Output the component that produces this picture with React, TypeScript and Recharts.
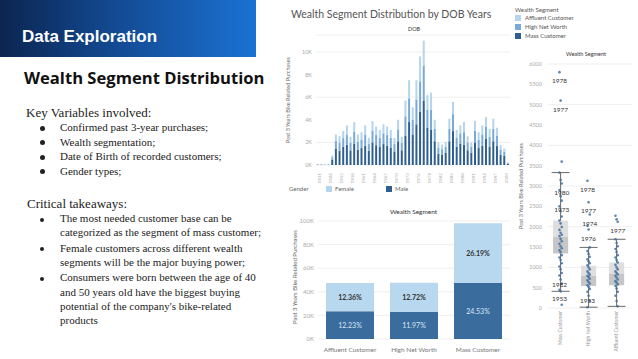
import React from 'react'
import {
  Bar,
  BarChart,
  CartesianGrid,
  LabelList,
  ReferenceArea,
  ReferenceLine,
  Scatter,
  ScatterChart,
  XAxis,
  YAxis,
} from 'recharts'

// ---- DOB chart data (purchases per birth year, split by wealth segment)
const dobYears = [
  1931, 1935, 1943, 1944, 1953, 1954, 1955, 1956, 1957, 1958, 1959, 1960, 1961, 1962,
  1963, 1964, 1965, 1966, 1967, 1968, 1969, 1970, 1971, 1972, 1973, 1974, 1975, 1976,
  1977, 1978, 1979, 1980, 1981, 1982, 1983, 1984, 1985, 1986, 1987, 1988, 1989, 1990,
  1991, 1992, 1993, 1994, 1995, 1996, 1997, 1998, 1999, 2000, 2001,
]
const massByYear = [
  30, 40, 20, 0, 450, 1450, 1250, 1600, 1800, 1300, 1900, 1350, 1500, 1700, 1250, 2000,
  1750, 1600, 1850, 1700, 1550, 1200, 2100, 1300, 2600, 3800, 2700, 3600, 4700, 5700,
  3300, 3100, 2100, 1000, 900, 1100, 2100, 3000, 1600, 1900, 1800, 1300, 1100, 2000,
  1500, 1700, 2300, 1600, 2100, 1700, 900, 800, 120,
]
const hnwByYear = [
  20, 0, 0, 50, 230, 700, 720, 780, 900, 650, 1050, 700, 760, 1000, 600, 1050, 900, 800,
  950, 950, 850, 650, 1050, 650, 1700, 2100, 1300, 2200, 2700, 3100, 1600, 1800, 1100,
  550, 500, 500, 1100, 1500, 800, 900, 1100, 700, 500, 1050, 750, 1000, 1100, 900, 1100,
  900, 450, 350, 80,
]
const affluentByYear = [
  0, 40, 0, 0, 170, 550, 580, 620, 800, 550, 850, 650, 640, 800, 550, 850, 750, 700, 800,
  750, 700, 550, 850, 550, 1400, 1600, 1100, 1700, 2200, 2200, 1300, 1500, 800, 450, 400,
  450, 900, 1100, 700, 700, 900, 550, 400, 850, 650, 800, 850, 700, 900, 700, 400, 300, 0,
]
const dobTicks = [0, 2000, 4000, 6000, 8000, 10000]

// ---- Wealth segment chart data (by gender)
const segmentNames = ['Affluent Customer', 'High Net Worth', 'Mass Customer']
const malePurchases = [23600, 23100, 47400]
const femalePurchases = [23900, 24600, 50600]
const malePct = ['12.23%', '11.97%', '24.53%']
const femalePct = ['12.36%', '12.72%', '26.19%']
const segmentTicks = [0, 20000, 40000, 60000, 80000, 100000]

// ---- Box plot data
const boxNames = ['Mass Customer', 'High Net Worth', 'Affluent Customer']
const boxQ1 = [1340, 540, 560]
const boxMedian = [1750, 790, 840]
const boxQ3 = [2150, 1040, 1120]
const whiskerLow = [410, 20, 40]
const whiskerHigh = [3330, 1490, 1690]
const massPoints = [
  5800, 5100, 3600, 3330, 3150, 3060, 2900, 2750, 2640, 2500, 2380, 2250, 2150, 2080, 1990,
  1920, 1850, 1800, 1770, 1700, 1640, 1580, 1520, 1470, 1420, 1370, 1300, 1240, 1180, 1100,
  1020, 950, 860, 800, 700, 600, 450, 410, 80,
]
const hnwPoints = [
  3130, 2600, 2300, 2020, 1930, 1490, 1400, 1330, 1260, 1200, 1150, 1100, 1050, 1000, 950,
  900, 860, 820, 790, 760, 720, 680, 640, 600, 560, 520, 470, 400, 300, 180, 20,
]
const affluentPoints = [
  2270, 2180, 2120, 1690, 1600, 1520, 1450, 1380, 1300, 1240, 1180, 1120, 1060, 1000, 950,
  900, 860, 830, 790, 750, 700, 660, 620, 580, 540, 480, 400, 300, 170, 40,
]
const labeledValues = [[5800, 5100, 3060, 2640, 800, 450], [3130, 2600, 2300, 1930, 400], [2120]]
const labeledYears = [['1978', '1977', '1980', '1973', '1982', '1953'], ['1978', '1977', '1974', '1976', '1953'], ['1977']]
const boxTicks = [0, 500, 1000, 1500, 2000, 2500, 3000, 3500, 4000, 4500, 5000, 5500, 6000]

const LIGHT = '#b4d5ed'
const MID = '#79a9d6'
const DARK = '#2f5f8f'
const AXIS_FONT = 'Lato, "Open Sans", sans-serif'

const dobData = dobYears.map((year, i) => ({
  year,
  mass: massByYear[i],
  hnw: hnwByYear[i],
  affluent: affluentByYear[i],
}))

const segmentData = segmentNames.map((name, i) => ({
  name,
  male: malePurchases[i],
  female: femalePurchases[i],
  malePct: malePct[i],
  femalePct: femalePct[i],
}))

const boxPoints = [massPoints, hnwPoints, affluentPoints].flatMap((vals, i) =>
  vals.map((v, k) => {
    const li = labeledValues[i].indexOf(v)
    return { x: i + ((k % 3) - 1) * 0.04, y: v, label: li >= 0 ? labeledYears[i][li] : '' }
  })
)

function VLabel({ x, y, size, text }: { x: number; y: number; size: number; text: string }) {
  return (
    <div
      style={{
        position: 'absolute',
        left: x,
        top: y,
        transform: 'translate(-50%, -50%) rotate(-90deg)',
        whiteSpace: 'nowrap',
        fontSize: size,
        color: '#666',
        fontFamily: AXIS_FONT,
      }}
    >
      {text}
    </div>
  )
}

function Abs({ x, y, style, children }: { x: number; y: number; style?: React.CSSProperties; children: React.ReactNode }) {
  return (
    <div style={{ position: 'absolute', left: x, top: y, whiteSpace: 'nowrap', lineHeight: 1, ...style }}>
      {children}
    </div>
  )
}

const Swatch = ({ x, y, color }: { x: number; y: number; color: string }) => (
  <div style={{ position: 'absolute', left: x, top: y, width: 6, height: 6, background: color }} />
)

// rotated category label for the box plot, kept on one line
const BoxTick = ({ x, y, payload }: any) => (
  <text
    x={x}
    y={y}
    transform={`rotate(-90, ${x}, ${y})`}
    textAnchor="end"
    dy="0.35em"
    fontSize={5}
    fill="#999"
    fontFamily={AXIS_FONT}
  >
    {boxNames[payload.value]}
  </text>
)

const serif = { fontFamily: '"Liberation Serif", serif', color: '#222' }

const keyLines = [
  'Confirmed past 3-year purchases;',
  'Wealth segmentation;',
  'Date of Birth of recorded customers;',
  'Gender types;',
]
const takeaways = [
  ['The most needed customer base can be', 'categorized as the segment of mass customer;'],
  ['Female customers across different wealth', 'segments will be the major buying power;'],
  [
    'Consumers were born between the age of 40',
    'and 50 years old have the biggest buying',
    "potential of the company's bike-related",
    'products',
  ],
]

function TextPanel() {
  let ty = 213
  return (
    <>
      <div
        style={{
          position: 'absolute',
          left: 0,
          top: 0,
          width: 256,
          height: 57,
          background: 'linear-gradient(90deg, #0b2550 0%, #134a93 45%, #1a72d2 100%)',
        }}
      />
      <Abs x={22} y={28} style={{ fontFamily: '"Liberation Sans", Arial', fontWeight: 700, fontSize: 17, color: '#fff' }}>
        Data Exploration
      </Abs>
      <Abs x={24} y={70} style={{ fontFamily: '"Open Sans"', fontWeight: 700, fontSize: 16.6, color: '#111' }}>
        Wealth Segment Distribution
      </Abs>
      <Abs x={26} y={106} style={{ ...serif, fontSize: 13 }}>Key Variables involved:</Abs>
      {keyLines.map((t, i) => (
        <React.Fragment key={t}>
          <div style={{ position: 'absolute', left: 39.5, top: 125.5 + i * 14.5, width: 5, height: 5, borderRadius: 3, background: '#222' }} />
          <Abs x={60} y={122 + i * 14.5} style={{ ...serif, fontSize: 11 }}>{t}</Abs>
        </React.Fragment>
      ))}
      <Abs x={27} y={197} style={{ ...serif, fontSize: 13 }}>Critical takeaways:</Abs>
      {takeaways.map((item, j) => {
        const start = ty
        ty += item.length * 14.4 + 0.8
        return (
          <React.Fragment key={j}>
            <div style={{ position: 'absolute', left: 40, top: start + 4.5, width: 4, height: 4, borderRadius: 2, background: '#222' }} />
            {item.map((line, k) => (
              <Abs key={k} x={60} y={start + k * 14.4} style={{ ...serif, fontSize: 11 }}>{line}</Abs>
            ))}
          </React.Fragment>
        )
      })}
    </>
  )
}

export default function App() {
  const small = { fontFamily: AXIS_FONT, color: '#555' }
  return (
    <div style={{ position: 'absolute', left: 0, top: 0, width: 638, height: 359, background: '#fff', overflow: 'hidden' }}>
      <TextPanel />

      {/* DOB chart */}
      <Abs x={291} y={9} style={{ ...small, fontSize: 10.5, color: '#555' }}>Wealth Segment Distribution by DOB Years</Abs>
      <Abs x={408} y={26.5} style={{ ...small, fontSize: 5.5, color: '#333' }}>DOB</Abs>
      <VLabel x={288} y={100} size={5.5} text="Past 3 Years Bike Related Purchases" />
      <div style={{ position: 'absolute', left: 280, top: 0 }}>
        <BarChart width={238} height={195} data={dobData} margin={{ top: 35, right: 8, left: 0, bottom: 0 }} barCategoryGap="16%">
          <CartesianGrid vertical={false} stroke="#efefef" />
          <XAxis
            dataKey="year"
            interval={2}
            angle={-90}
            textAnchor="end"
            height={30}
            tick={{ fontSize: 4.5, fill: '#aaa', fontFamily: AXIS_FONT }}
            tickLine={false}
            axisLine={false}
            tickMargin={2}
          />
          <YAxis
            domain={[0, 11500]}
            ticks={dobTicks}
            tickFormatter={(v: number) => `${v / 1000}K`}
            width={36}
            tick={{ fontSize: 5.5, fill: '#aaa', fontFamily: AXIS_FONT }}
            tickLine={false}
            axisLine={false}
            tickSize={0}
            tickMargin={4}
          />
          <Bar dataKey="mass" stackId="s" fill={DARK} isAnimationActive={false} />
          <Bar dataKey="hnw" stackId="s" fill={MID} isAnimationActive={false} />
          <Bar dataKey="affluent" stackId="s" fill={LIGHT} isAnimationActive={false} />
        </BarChart>
      </div>
      <Abs x={289} y={185.5} style={{ ...small, fontSize: 6, color: '#666' }}>Gender</Abs>
      <Swatch x={325.5} y={185.5} color={LIGHT} />
      <Abs x={335} y={185.5} style={{ ...small, fontSize: 6, color: '#666' }}>Female</Abs>
      <Swatch x={385.5} y={185.5} color={DARK} />
      <Abs x={395} y={185.5} style={{ ...small, fontSize: 6, color: '#666' }}>Male</Abs>

      {/* top-right legend */}
      <Abs x={515} y={7} style={{ ...small, fontSize: 6, color: '#555' }}>Wealth Segment</Abs>
      <Swatch x={515} y={14.5} color={LIGHT} />
      <Abs x={525} y={14.5} style={{ ...small, fontSize: 6, color: '#555' }}>Affluent Customer</Abs>
      <Swatch x={515} y={23.5} color={MID} />
      <Abs x={525} y={23.5} style={{ ...small, fontSize: 6, color: '#555' }}>High Net Worth</Abs>
      <Swatch x={515} y={32.5} color={DARK} />
      <Abs x={525} y={32.5} style={{ ...small, fontSize: 6, color: '#555' }}>Mass Customer</Abs>

      {/* Wealth segment by gender */}
      <Abs x={390} y={208.5} style={{ ...small, fontSize: 6.5, color: '#333' }}>Wealth Segment</Abs>
      <VLabel x={294} y={277} size={6} text="Past 3 Years Bike Related Purchases" />
      <div style={{ position: 'absolute', left: 280, top: 200 }}>
        <BarChart width={240} height={159} data={segmentData} margin={{ top: 21, right: 10, left: 0, bottom: 0 }}>
          <CartesianGrid vertical={false} stroke="#efefef" />
          <XAxis
            dataKey="name"
            height={20}
            tick={{ fontSize: 6.5, fill: '#777', fontFamily: AXIS_FONT }}
            tickLine={false}
            axisLine={false}
            tickMargin={2}
          />
          <YAxis
            domain={[0, 100000]}
            ticks={segmentTicks}
            tickFormatter={(v: number) => `${v / 1000}K`}
            width={38}
            tick={{ fontSize: 6, fill: '#aaa', fontFamily: AXIS_FONT }}
            tickLine={false}
            axisLine={false}
            tickSize={0}
            tickMargin={4}
          />
          <Bar dataKey="male" stackId="g" fill="#3b6c9e" barSize={48} isAnimationActive={false}>
            <LabelList dataKey="malePct" position="center" fontSize={7} fill="#d6e6f4" fontFamily={AXIS_FONT} />
          </Bar>
          <Bar dataKey="female" stackId="g" fill="#b7d8ef" barSize={48} isAnimationActive={false}>
            <LabelList dataKey="femalePct" position="center" fontSize={7} fill="#333" fontWeight={700} fontFamily={AXIS_FONT} />
          </Bar>
        </BarChart>
      </div>

      {/* Box plot */}
      <Abs x={566} y={52} style={{ ...small, fontSize: 5.5, color: '#333' }}>Wealth Segment</Abs>
      <VLabel x={521} y={186} size={5.5} text="Past 3 Years Bike Related Purchases" />
      <div style={{ position: 'absolute', left: 505, top: 40 }}>
        <ScatterChart width={133} height={319} margin={{ top: 24, right: 6, left: 0, bottom: 0 }}>
          <CartesianGrid vertical={false} stroke="#efefef" />
          <XAxis
            type="number"
            dataKey="x"
            domain={[-0.45, 2.55]}
            ticks={[0, 1, 2]}
            tick={<BoxTick />}
            height={51}
            tickLine={false}
            axisLine={false}
            tickSize={0}
            tickMargin={3}
          />
          <YAxis
            type="number"
            dataKey="y"
            domain={[0, 6000]}
            ticks={boxTicks}
            width={43}
            tick={{ fontSize: 5.5, fill: '#aaa', fontFamily: AXIS_FONT }}
            tickLine={false}
            axisLine={false}
            tickSize={0}
            tickMargin={6}
          />
          {boxNames.map((_, i) => (
            <ReferenceArea key={`u${i}`} x1={i - 0.27} x2={i + 0.27} y1={boxMedian[i]} y2={boxQ3[i]} fill="#d4d4d4" fillOpacity={0.75} stroke="none" />
          ))}
          {boxNames.map((_, i) => (
            <ReferenceArea key={`l${i}`} x1={i - 0.27} x2={i + 0.27} y1={boxQ1[i]} y2={boxMedian[i]} fill="#b3b3b3" fillOpacity={0.75} stroke="none" />
          ))}
          {boxNames.map((_, i) => (
            <ReferenceLine key={`wl${i}`} segment={[{ x: i, y: whiskerLow[i] }, { x: i, y: boxQ1[i] }]} stroke="#444" strokeWidth={0.8} />
          ))}
          {boxNames.map((_, i) => (
            <ReferenceLine key={`wh${i}`} segment={[{ x: i, y: boxQ3[i] }, { x: i, y: whiskerHigh[i] }]} stroke="#444" strokeWidth={0.8} />
          ))}
          {boxNames.map((_, i) => (
            <ReferenceLine key={`cl${i}`} segment={[{ x: i - 0.32, y: whiskerLow[i] }, { x: i + 0.32, y: whiskerLow[i] }]} stroke="#444" strokeWidth={0.8} />
          ))}
          {boxNames.map((_, i) => (
            <ReferenceLine key={`ch${i}`} segment={[{ x: i - 0.32, y: whiskerHigh[i] }, { x: i + 0.32, y: whiskerHigh[i] }]} stroke="#444" strokeWidth={0.8} />
          ))}
          <Scatter
            data={boxPoints}
            fill="#3f6f9f"
            isAnimationActive={false}
            shape={(p: any) => <circle cx={p.cx} cy={p.cy} r={1.3} fill="#3f6f9f" fillOpacity={0.85} />}
          >
            <LabelList dataKey="label" position="bottom" offset={2} fontSize={6.5} fill="#333" fontFamily={AXIS_FONT} />
          </Scatter>
        </ScatterChart>
      </div>
    </div>
  )
}
